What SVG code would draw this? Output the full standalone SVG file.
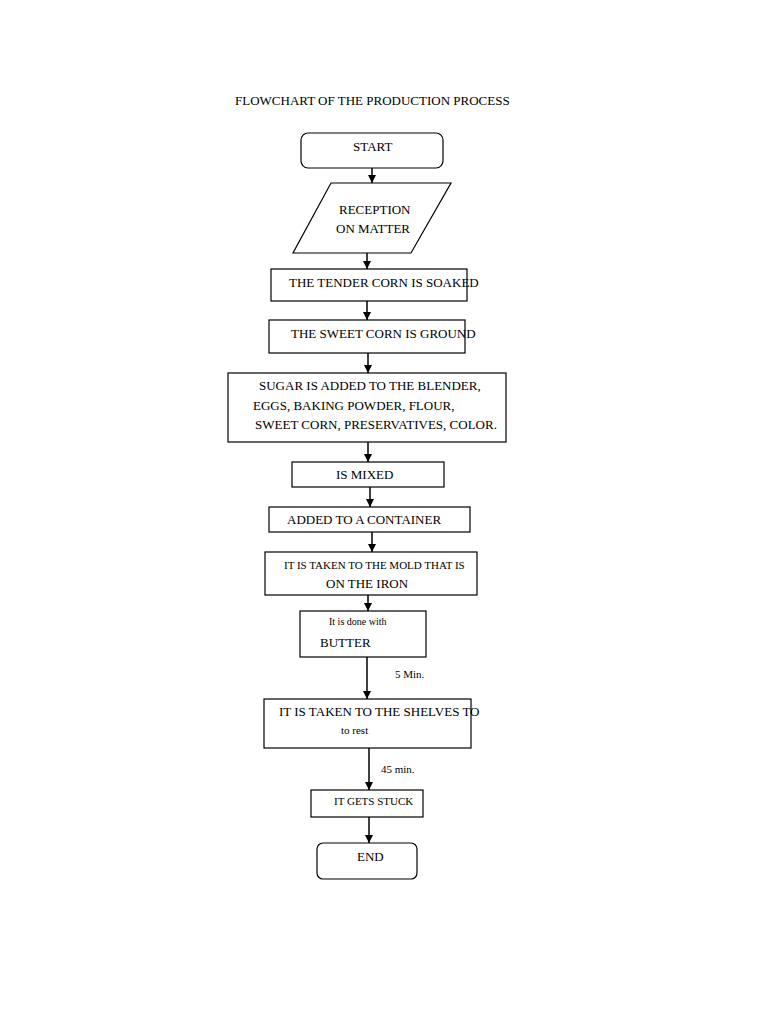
<svg xmlns="http://www.w3.org/2000/svg" width="768" height="1024" viewBox="0 0 768 1024">
<style>
.b{fill:#fff;stroke:#000;stroke-width:1.2}
text{font-family:"Liberation Serif",serif;font-size:13px;fill:#000}
.s{font-size:11px}
.t{font-size:10px}
.c line{stroke:#000;stroke-width:1.5}
</style>
<defs><marker id="a" viewBox="0 0 10 10" refX="10" refY="5" markerWidth="8" markerHeight="8" markerUnits="userSpaceOnUse" orient="auto"><path d="M0,0L10,5L0,10z"/></marker></defs>
<rect width="768" height="1024" fill="#fff"/>
<text x="235" y="105">FLOWCHART OF THE PRODUCTION PROCESS</text>
<g class="c">
<line x1="372" y1="168" x2="372" y2="183" marker-end="url(#a)"/>
<line x1="367" y1="253" x2="367" y2="269" marker-end="url(#a)"/>
<line x1="367" y1="301" x2="367" y2="320" marker-end="url(#a)"/>
<line x1="368" y1="353" x2="368" y2="373" marker-end="url(#a)"/>
<line x1="368" y1="442" x2="368" y2="462" marker-end="url(#a)"/>
<line x1="370" y1="487" x2="370" y2="507" marker-end="url(#a)"/>
<line x1="372" y1="532" x2="372" y2="552" marker-end="url(#a)"/>
<line x1="368" y1="595" x2="368" y2="611" marker-end="url(#a)"/>
<line x1="367" y1="657" x2="367" y2="699" marker-end="url(#a)"/>
<line x1="369" y1="748" x2="369" y2="790" marker-end="url(#a)"/>
<line x1="369" y1="817" x2="369" y2="843" marker-end="url(#a)"/>
</g>
<g id="start"><rect class="b" x="301" y="133" width="142" height="35" rx="7"/><text x="353" y="151">START</text></g>
<g id="reception"><polygon class="b" points="331,183 451,183 411,253 293,253"/><text x="339" y="214">RECEPTION</text><text x="336" y="233">ON MATTER</text></g>
<g id="soak"><rect class="b" x="271" y="269" width="196" height="32"/><text x="289" y="287">THE TENDER CORN IS SOAKED</text></g>
<g id="ground"><rect class="b" x="269" y="320" width="196" height="33"/><text x="291" y="338">THE SWEET CORN IS GROUND</text></g>
<g id="sugar"><rect class="b" x="228" y="373" width="278" height="69"/><text x="259" y="390">SUGAR IS ADDED TO THE BLENDER,</text><text x="253" y="410">EGGS, BAKING POWDER, FLOUR,</text><text x="255" y="429">SWEET CORN, PRESERVATIVES, COLOR.</text></g>
<g id="mixed"><rect class="b" x="292" y="462" width="152" height="25"/><text x="336" y="479">IS MIXED</text></g>
<g id="container"><rect class="b" x="269" y="507" width="201" height="25"/><text x="287" y="524">ADDED TO A CONTAINER</text></g>
<g id="mold"><rect class="b" x="265" y="552" width="212" height="43"/><text class="s" x="284" y="569">IT IS TAKEN TO THE MOLD THAT IS</text><text x="326" y="588">ON THE IRON</text></g>
<g id="butter"><rect class="b" x="300" y="611" width="126" height="46"/><text class="t" x="329" y="625">It is done with</text><text x="320" y="647">BUTTER</text></g>
<text class="s" x="395" y="678">5 Min.</text>
<g id="shelves"><rect class="b" x="264" y="699" width="207" height="49"/><text x="279" y="716">IT IS TAKEN TO THE SHELVES TO</text><text class="s" x="341" y="734">to rest</text></g>
<text class="s" x="381" y="773">45 min.</text>
<g id="stuck"><rect class="b" x="311" y="790" width="112" height="27"/><text class="s" x="334" y="805">IT GETS STUCK</text></g>
<g id="end"><rect class="b" x="317" y="843" width="100" height="36" rx="6"/><text x="357" y="861">END</text></g>
</svg>
